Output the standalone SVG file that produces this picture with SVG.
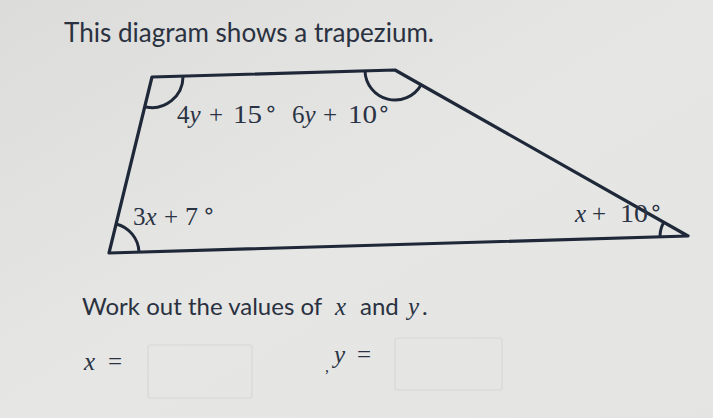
<svg xmlns="http://www.w3.org/2000/svg" width="713" height="418" viewBox="0 0 713 418">
<defs>
<linearGradient id="bg" x1="0" y1="0" x2="1" y2="1">
<stop offset="0" stop-color="#dcdcda"/>
<stop offset="0.5" stop-color="#e6e6e4"/>
<stop offset="1" stop-color="#e4e4e2"/>
</linearGradient>
<style>
.edge{fill:none;stroke:#1e2838;stroke-width:3.2;stroke-linejoin:round;stroke-linecap:round}
.arc{fill:none;stroke:#1e2838;stroke-width:3}
.m{font-family:"Liberation Serif","DejaVu Serif",serif;font-size:25px;fill:#2a3344}
.i{font-style:italic}
.d{font-family:"DejaVu Sans",sans-serif;font-size:22px;fill:#2a3344}
.t{font-family:Lato,"Liberation Sans",sans-serif;font-size:26px;fill:#2a3140}
.q{font-family:Lato,"Liberation Sans",sans-serif;font-size:24px;fill:#2a3140}
.c{font-family:"Liberation Serif",serif;font-size:16px;fill:#2a3344}
.box{fill:none;stroke:#d8d8d6;stroke-width:1.2}
</style>
</defs>
<rect width="713" height="418" fill="url(#bg)"/>
<text class="t" x="64" y="42" textLength="370" lengthAdjust="spacingAndGlyphs">This diagram shows a trapezium.</text>
<g id="trapezium">
<path class="edge" d="M152 77 L395 70 L688 236 L109 253 Z"/>
</g>
<g id="angles">
<path class="arc" d="M183 77 A31 31 0 0 1 146 107"/>
<path class="arc" d="M365 71 A30 30 0 0 0 421 85"/>
<path class="arc" d="M116 224 A30 30 0 0 1 139 252"/>
<path class="arc" d="M660 236 A28 28 0 0 1 664 222"/>
</g>
<g id="labels">
<text class="m" x="177" y="123">4<tspan class="i">y</tspan></text><text class="m" x="209" y="123">+</text><text class="m" x="233" y="123" textLength="29" lengthAdjust="spacingAndGlyphs">15</text><text class="d" x="264" y="116">∘</text>
<text class="m" x="292" y="123">6<tspan class="i">y</tspan></text><text class="m" x="323" y="123">+</text><text class="m" x="348" y="123" textLength="29" lengthAdjust="spacingAndGlyphs">10</text><text class="d" x="377" y="116">∘</text>
<text class="m" x="133" y="225">3<tspan class="i">x</tspan></text><text class="m" x="164" y="225">+</text><text class="m" x="185" y="225" textLength="13" lengthAdjust="spacingAndGlyphs">7</text><text class="d" x="202" y="218">∘</text>
<text class="m i" x="575" y="222">x</text><text class="m" x="592" y="222">+</text><text class="m" x="620" y="222" textLength="28" lengthAdjust="spacingAndGlyphs">10</text><text class="d" x="649" y="215">∘</text>
</g>
<text class="q" x="82" y="315">Work out the values of</text>
<text class="m i" x="335" y="315">x</text>
<text class="q" x="360" y="315">and</text>
<text class="m i" x="408" y="315">y</text>
<text class="q" x="422" y="315">.</text>
<text class="m i" x="84" y="370">x</text><text class="m" x="108" y="370">=</text>
<rect class="box" x="148" y="345" width="104" height="53" rx="2"/>
<text class="c" x="325" y="372">,</text>
<text class="m i" x="334" y="363">y</text><text class="m" x="357" y="363">=</text>
<rect class="box" x="395" y="338" width="107" height="52" rx="2"/>
</svg>
